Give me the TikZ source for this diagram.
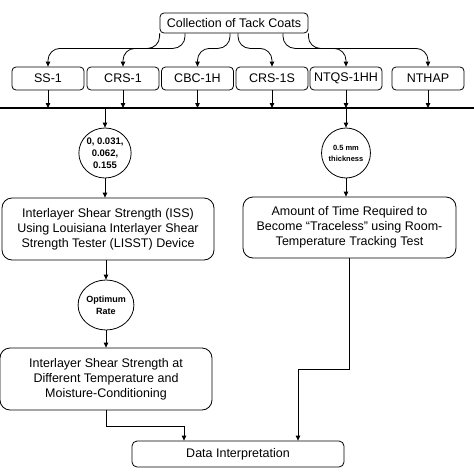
\documentclass[tikz,border=0pt]{standalone}
\usepackage{fontspec}
\setmainfont{Liberation Sans}
\usepackage{tikz}
\usetikzlibrary{arrows.meta,shapes.geometric}
\tikzset{coatbox/.style={
    draw,
    rounded corners=4pt,
    minimum width=72pt,
    minimum height=23pt,
    inner sep=1pt,
    font=\fontsize{12.5}{15}\selectfont}}
\tikzset{testbox/.style={
    draw,
    rounded corners=10pt,
    align=center,
    minimum width=212pt,
    minimum height=62pt,
    font=\fontsize{12.5}{15}\selectfont}}
\tikzset{ratenode/.style={
    draw,
    ellipse,
    inner sep=0pt,
    align=center,
    minimum height=50pt,
    font=\fontsize{9.5}{12}\selectfont\bfseries}}
\tikzset{flow/.style={
    draw,
    -{Triangle[length=5pt,width=4.5pt]}}}

\begin{document}
\begin{tikzpicture}[x=1pt,y=-1pt,line width=0.8pt]
\useasboundingbox (0,0) rectangle (474,474);

\node[coatbox, minimum width=148pt, minimum height=20pt] (tack) at (234,23) {Collection of Tack Coats};
\node[coatbox] (ss) at (48,78.5) {SS-1};
\node[coatbox] (crs) at (123,78.5) {CRS-1};
\node[coatbox] (cbc) at (197.5,78.5) {CBC-1H};
\node[coatbox] (crss) at (272,78.5) {CRS-1S};
\node[coatbox] (ntqs) at (346,78.5) {NTQS-1HH};
\node[coatbox] (nthap) at (428,78.5) {NTHAP};

% tack coats to each product
\draw[flow, rounded corners=12pt] (tack.south west) -- ++(0,15) -| (ss.north);
\draw[flow, rounded corners=12pt] ([xshift=-49pt]tack.south) -- ++(0,15) -| (crs.north);
\draw[flow, rounded corners=12pt] ([xshift=-4pt]tack.south) -- ++(0,15) -| (cbc.north);
\draw[flow, rounded corners=12pt] ([xshift=4pt]tack.south) -- ++(0,15) -| (crss.north);
\draw[flow, rounded corners=12pt] ([xshift=49pt]tack.south) -- ++(0,15) -| (ntqs.north);
\draw[flow, rounded corners=12pt] (tack.south east) -- ++(0,15) -| (nthap.north);

\coordinate (busL) at (0,108);
\coordinate (busR) at (474,108);
\draw[line width=1.3pt] (busL) -- (busR);
\foreach \n in {ss,crs,cbc,crss,ntqs,nthap}
  \draw[flow] (\n.south) -- (\n.south |- busL);

\node[ratenode, minimum width=40pt] (dose) at (105,153) {0, 0.031,\\0.062,\\0.155};
\node[ratenode, minimum width=42pt, font=\fontsize{7.5}{11}\selectfont\bfseries] (film) at (346,153) {0.5 mm\\thickness};

\node[testbox] (iss) at (108,229) {Interlayer Shear Strength (ISS)\\Using Louisiana Interlayer Shear\\Strength Tester (LISST) Device};
\node[testbox, minimum width=213pt, minimum height=61pt] (trace) at (349.5,227.5) {Amount of Time Required to\\Become “Traceless” using Room-\\Temperature Tracking Test};

\node[ratenode, minimum width=54pt, font=\fontsize{9}{12}\selectfont\bfseries] (optimum) at (106,305) {Optimum\\Rate};
\node[testbox] (temp) at (106,379) {Interlayer Shear Strength at\\Different Temperature and\\Moisture-Conditioning};
\node[testbox, rounded corners=5pt, minimum height=26pt] (data) at (238,454) {Data Interpretation};

\draw[flow] (dose.north |- busL) -- (dose.north);
\draw[flow] (film.north |- busL) -- (film.north);
\draw[flow] (dose.south) -- (dose.south |- iss.north);
\draw[flow] (film.south) -- (film.south |- trace.north);
\draw[flow] (optimum.north |- iss.south) -- (optimum.north);
\draw[flow] (optimum.south) -- (optimum.south |- temp.north);
\draw[flow] (temp.south) -- ++(0,16) -| ([xshift=-54pt]data.north);
\draw[flow] (trace.south) -- ++(0,111) -| ([xshift=60pt]data.north);
\end{tikzpicture}
\end{document}
